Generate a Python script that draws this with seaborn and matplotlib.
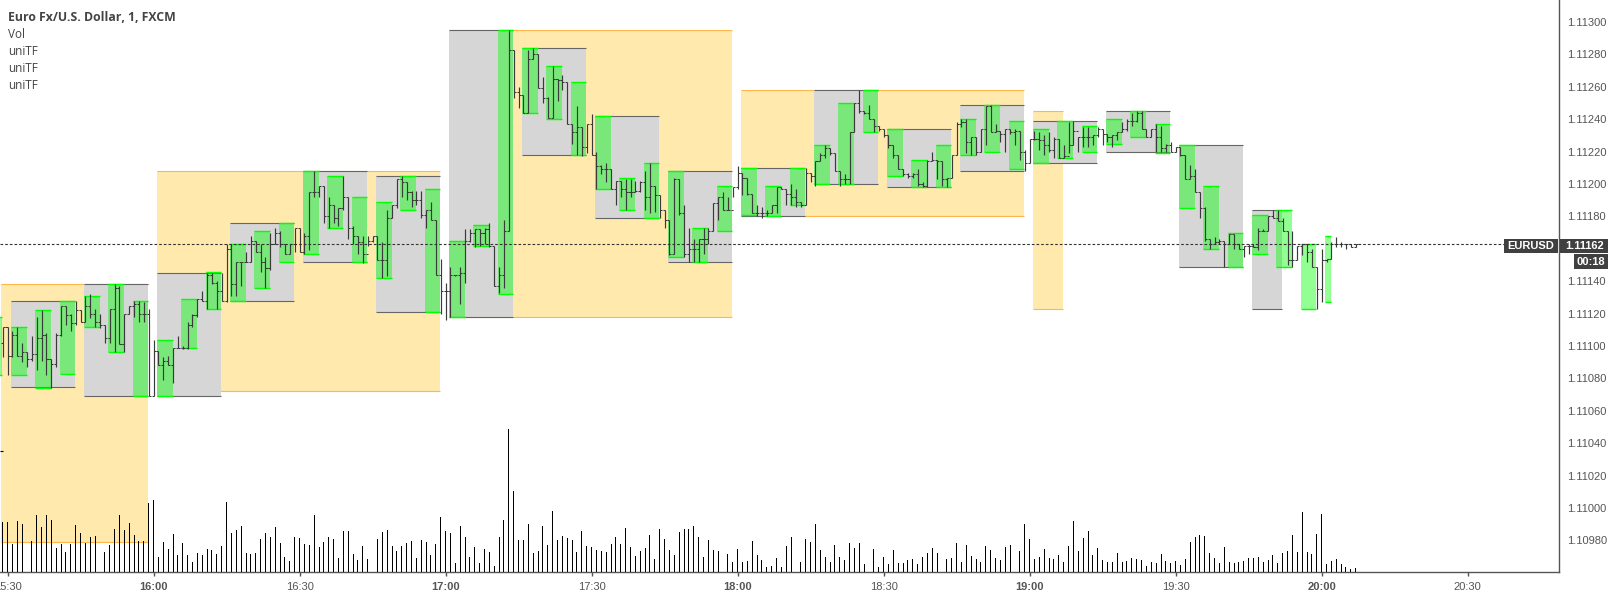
# EUR/USD 1 minute bars with uniTF boxes and volume
import numpy as np
import pandas as pd
import seaborn as sns
import matplotlib.pyplot as plt
from matplotlib.patches import Rectangle

# all prices in points above 1.11000, bar 0 is 15:29
first_open = 102
highs = [
    112,112,109,112,102,96,106,118,122,108, 92,108,125,125,120,128,122,131,132,123,
    120,113,123,138,137,120,125,128,128,127, 123,104,97,93,94,99,106,100,115,120,
    129,134,145,145,140,145,163,163,152,152, 158,168,165,163,155,170,173,171,163,163,
    173,173,170,195,208,199,199,192,187,185, 205,192,174,168,168,168,168,168,164,184,
    187,203,205,201,196,196,196,184,189,178, 154,139,149,144,149,172,172,172,172,173,
    176,162,149,178,295,283,260,255,283,284, 280,266,254,273,265,267,263,237,248,235,
    237,243,220,212,213,209,202,202,203,203, 202,202,208,213,199,193,184,178,204,203,
    187,173,166,166,173,173,188,192,195,192, 198,211,207,204,194,187,186,184,187,198,
    198,197,200,197,189,210,207,214,219,224, 222,219,208,206,232,250,258,245,249,240,
    236,234,230,224,218,209,207,207,209,201, 215,220,215,214,204,218,238,240,240,229,
    229,234,248,249,237,233,234,234,234,233, 221,228,233,232,230,232,229,228,224,238,
    239,229,235,235,230,235,234,231,230,232, 238,240,244,245,245,234,234,237,236,225,
    226,223,223,218,212,209,195,186,166,167, 166,165,169,169,163,162,163,163,173,172,
    180,184,184,179,171,171,162,163,163,160, 149,160,154,164,167,164,163,163,163]
lows = [
    93,82,93,94,90,87,91,85,91,82, 74,87,106,113,109,113,115,115,117,112,
    111,102,102,96,101,96,120,118,115,115, 69,69,88,79,88,77,99,98,98,112,
    118,128,123,138,123,128,127,131,131,137, 152,152,158,146,136,147,163,161,157,157,
    158,158,157,159,192,192,176,173,176,174, 184,166,163,157,151,162,164,153,142,143,
    179,185,192,190,186,187,179,173,178,144, 120,116,118,143,126,139,164,161,162,163,
    161,137,133,136,171,253,247,244,244,277, 259,250,241,241,251,258,237,225,218,217,
    219,218,197,206,201,197,187,192,184,192, 195,195,184,182,183,179,173,156,157,181,
    155,152,152,152,157,163,171,178,184,184, 192,197,193,193,182,180,179,180,182,182,
    197,187,187,186,186,187,201,199,214,216, 218,208,199,200,200,232,244,243,240,232,
    233,229,222,216,209,205,204,204,199,198, 198,214,203,199,198,204,218,235,219,218,
    218,220,224,232,232,226,220,231,224,215, 208,213,227,221,218,220,216,216,216,219,
    224,220,223,223,224,229,224,226,223,227, 232,233,236,238,234,229,229,220,220,220,
    220,220,217,203,203,195,179,165,160,163, 163,149,163,160,160,155,157,161,159,171,
    171,179,177,171,150,149,153,156,152,149, 123,127,152,154,161,161,160,161,161]
closes = [
    112,94,107,94,96,92,95,105,107,92, 89,107,125,119,114,122,115,125,120,115,
    113,105,123,136,101,120,125,126,120,120, 69,97,88,91,88,99,99,99,113,119,
    129,128,144,139,134,128,160,138,152,152, 152,165,158,152,148,163,170,163,157,163,
    173,158,168,195,195,199,180,187,179,185, 192,173,168,164,157,165,168,153,153,179,
    187,203,201,195,190,190,181,184,178,144, 134,134,144,144,145,165,170,172,170,172,
    162,137,144,171,283,257,255,244,277,280, 259,253,241,265,264,263,237,232,235,223,
    237,218,211,209,209,197,202,197,195,195, 196,201,192,199,193,184,178,157,203,182,
    157,160,160,166,166,171,188,192,184,184, 198,207,204,194,182,182,182,182,187,198,
    197,194,192,189,187,207,205,214,218,222, 219,208,203,203,232,250,245,244,240,236,
    234,230,224,218,209,206,205,206,200,199, 214,215,214,203,204,218,237,238,226,229,
    220,234,248,232,233,231,234,232,233,220, 213,228,228,227,224,221,228,216,217,224,
    233,229,229,229,230,234,231,229,230,232, 234,239,239,244,234,229,234,229,222,224,
    220,223,218,203,205,195,185,166,163,164, 165,163,169,163,160,162,162,161,171,171,
    180,179,177,171,153,153,162,163,158,149, 135,153,154,163,163,163,163,161,163]

volumes = [
    149,151,85,154,145,106,94,172,136,172, 157,73,85,61,85,142,118,88,106,109,
    64,61,82,130,172,127,148,112,94,94, 208,217,46,91,70,115,52,88,52,31,
    58,52,70,67,55,79,211,118,127,139, 58,55,58,100,118,106,136,88,46,34,
    106,103,85,82,172,76,91,106,100,43, 124,124,55,37,79,40,0,100,121,127,
    79,64,79,88,94,43,97,91,52,85, 166,124,118,28,139,106,46,76,28,70,
    61,19,106,157,429,244,97,97,145,58, 64,139,82,184,97,109,103,97,61,124,
    79,76,67,64,61,85,106,85,133,76, 49,64,73,112,40,130,100,67,52,121,
    130,130,139,106,46,97,67,64,76,55, 31,70,31,34,94,52,37,16,19,43,
    16,79,106,43,31,100,91,145,67,46, 31,82,46,37,88,73,88,25,40,70,
    16,46,25,67,28,28,37,40,25,46, 58,73,58,61,40,43,88,31,82,49,
    40,31,79,67,43,37,76,82,52,64, 145,100,40,46,70,43,40,52,31,79,
    154,64,103,124,52,73,37,31,31,58, 31,34,43,40,37,19,31,28,55,34,
    28,34,22,40,91,106,112,109,58,43, 28,76,31,28,31,34,43,43,46,31,
    37,52,28,58,64,112,61,181,61,55, 115,175,25,34,40,25,16,10,13]

# uniTF boxes: first bar of each, tops and bottoms in points
hour_start = [0, 32, 92, 152, 212]
hour_end = [30, 90, 150, 210, 218]
hour_high = [138, 208, 295, 258, 245]
hour_low = [-21, 72, 118, 180, 123]

mid_start = [2, 17, 32, 47, 62, 77, 92, 107, 122, 137, 152, 167, 182, 197, 212, 227, 242, 257]
mid_end = [15, 30, 45, 60, 75, 90, 105, 120, 135, 150, 165, 180, 195, 210, 225, 240, 255, 263]
mid_high = [128, 138, 145, 176, 208, 205, 295, 284, 242, 208, 210, 258, 234, 249, 239, 245, 224, 184]
mid_low = [75, 69, 69, 128, 152, 121, 118, 218, 179, 152, 180, 200, 198, 208, 213, 220, 149, 123]

small_start = [-3] + list(range(2, 273, 5))
small_end = [0] + list(range(5, 271, 5)) + [273]
small_high = [118, 112, 122, 128, 131, 138, 128, 104, 129, 146, 163, 171, 176, 208, 205, 192, 189, 205, 197,
              165, 175, 295, 284, 273, 263, 242, 204, 213, 208, 173, 199, 210, 199, 210, 224, 250, 258, 234,
              215, 224, 240, 249, 239, 234, 239, 236, 240, 245, 237, 224, 199, 170, 181, 184, 163, 168]
small_low = [82, 82, 74, 83, 112, 96, 69, 69, 99, 123, 128, 136, 152, 157, 173, 152, 142, 184, 121,
             118, 162, 132, 244, 240, 218, 197, 184, 179, 155, 152, 171, 181, 180, 187, 200, 200, 232, 205,
             198, 198, 218, 220, 209, 213, 216, 220, 225, 229, 219, 185, 160, 149, 157, 149, 123, 127]

tick_bars = [1, 31, 61, 91, 121, 151, 181, 211, 241, 271, 301]
tick_labels = ['15:30', '16:00', '16:30', '17:00', '17:30', '18:00', '18:30', '19:00', '19:30', '20:00', '20:30']
price_ticks = [300, 280, 260, 240, 220, 200, 180, 140, 120, 100, 80, 60, 40, 20, 0, -20]
legend_lines = ['Vol', 'uniTF', 'uniTF', 'uniTF']


def px_rect(fig, x0, y0, x1, y1, color):
    # rectangle given in image pixels, y going down
    W, H = fig.get_size_inches() * fig.dpi
    fig.add_artist(Rectangle((x0 / W, 1 - y1 / H), (x1 - x0) / W, (y1 - y0) / H,
                             transform=fig.transFigure, color=color, lw=0, zorder=20))


def px_text(fig, x, y, s, **kw):
    W, H = fig.get_size_inches() * fig.dpi
    fig.text(x / W, 1 - y / H, s, zorder=21, **kw)


def boxes(ax, start, end, high, low, fill, edge, lw, z, alpha=1.0):
    left = np.array(start) - 0.3
    right = np.array(end) - 0.1
    high = 1.11 + np.array(high) / 1e5
    low = 1.11 + np.array(low) / 1e5
    ax.bar(left, high - low, bottom=low, width=right - left, align='edge', facecolor=fill,
           edgecolor='none', linewidth=0, alpha=alpha, zorder=z)
    ax.hlines(high, left, right, color=edge, lw=lw, zorder=z + 0.1)
    ax.hlines(low, left, right, color=edge, lw=lw, zorder=z + 0.1)


def main():
    sns.set_theme(style='ticks')
    plt.rcParams['font.family'] = ['Liberation Sans', 'DejaVu Sans']

    fig = plt.figure(figsize=(16.09, 5.91), dpi=100)
    fig.patch.set_facecolor('white')
    ax = fig.add_axes([0, 19 / 591, 1559 / 1609, 572 / 591])
    vol_ax = ax.twinx()
    ax.set_zorder(1)
    vol_ax.set_zorder(2)
    vol_ax.patch.set_visible(False)

    boxes(ax, hour_start, hour_end, hour_high, hour_low, '#FFE9AC', '#FFB74D', 0.8, 1)
    boxes(ax, mid_start, mid_end, mid_high, mid_low, '#D6D6D6', '#666666', 0.8, 2)
    boxes(ax, small_start, small_end, small_high, small_low, '#00FF00', '#00FF00', 1.0, 3, alpha=0.43)

    bars = np.arange(len(closes))
    c = 1.11 + np.array(closes) / 1e5
    o = np.r_[1.11 + first_open / 1e5, c[:-1]]
    h = 1.11 + np.array(highs) / 1e5
    l = 1.11 + np.array(lows) / 1e5
    bar_color = '#3A3A3A'
    ax.vlines(bars, l, h, color=bar_color, lw=0.85, zorder=5)
    ax.hlines(o, bars - 0.42, bars, color=bar_color, lw=0.75, zorder=5)
    ax.hlines(c, bars, bars + 0.42, color=bar_color, lw=0.75, zorder=5)
    # stray tick of a bar that is cut off at the left edge
    ax.hlines(1.11035, -0.6, 0.1, color='black', lw=0.8, zorder=5)

    # last price line
    ax.plot([-0.55, 308.5], [c[-1], c[-1]], color='#333333', lw=0.8, ls=(0, (2.4, 1.8)), zorder=6)

    vol_df = pd.DataFrame({'bar': np.arange(len(volumes)), 'vol': volumes})
    sns.barplot(data=vol_df, x='bar', y='vol', native_scale=True, color='black', saturation=1,
                width=0.2, errorbar=None, edgecolor='black', linewidth=0, ax=vol_ax)
    vol_ax.set_ylim(0, 1716)
    vol_ax.set_ylabel('')
    vol_ax.set_xlabel('')
    vol_ax.set_yticks([])
    for s in vol_ax.spines.values():
        s.set_visible(False)

    ax.set_xlim(-0.549, 319.77)
    ax.set_ylim(1.11 - 39.5 / 1e5, 1.11 + 313.6 / 1e5)

    ax.yaxis.tick_right()
    ax.set_yticks([1.11 + p / 1e5 for p in price_ticks])
    ax.set_yticklabels(['%.5f' % (1.11 + p / 1e5) for p in price_ticks])
    ax.set_xticks(tick_bars)
    ax.set_xticklabels(tick_labels)
    for lab, txt in zip(ax.get_xticklabels(), tick_labels):
        lab.set_fontweight('bold' if txt.endswith(':00') else 'normal')
    ax.tick_params(axis='y', length=3, width=1, color='#555555', labelcolor='#555555', labelsize=8, pad=2.5)
    ax.tick_params(axis='x', length=3, width=1, color='#555555', labelcolor='#555555', labelsize=8, pad=4)
    ax.set_xlabel('')
    ax.set_ylabel('')
    sns.despine(ax=ax, left=True, right=False, top=True, bottom=False)
    ax.spines['right'].set_color('#555555')
    ax.spines['bottom'].set_color('#555555')
    ax.spines['right'].set_linewidth(1)
    ax.spines['bottom'].set_linewidth(1)

    # legend text top left
    px_text(fig, 8, 21, 'Euro Fx/U.S. Dollar, 1, FXCM', family='Open Sans', fontweight='bold',
            fontsize=8.8, color='#444444')
    for k, line in enumerate(legend_lines):
        px_text(fig, 8, 38 + 17 * k, line, family='Open Sans', fontsize=8.5, color='#444444')

    # price tags on the right
    tag = '#404040'
    px_rect(fig, 1504, 238.7, 1558, 252.7, tag)
    px_rect(fig, 1559.5, 238.7, 1608, 252.7, tag)
    px_rect(fig, 1574, 254.3, 1608, 269.3, tag)
    px_text(fig, 1531, 246, 'EURUSD', color='white', fontsize=8, fontweight='bold', ha='center', va='center')
    px_text(fig, 1584.5, 246, '1.11162', color='white', fontsize=8, fontweight='bold', ha='center', va='center')
    px_text(fig, 1591, 262, '00:18', color='white', fontsize=8, fontweight='bold', ha='center', va='center')

    fig.savefig('out.png', dpi=100)


main()
